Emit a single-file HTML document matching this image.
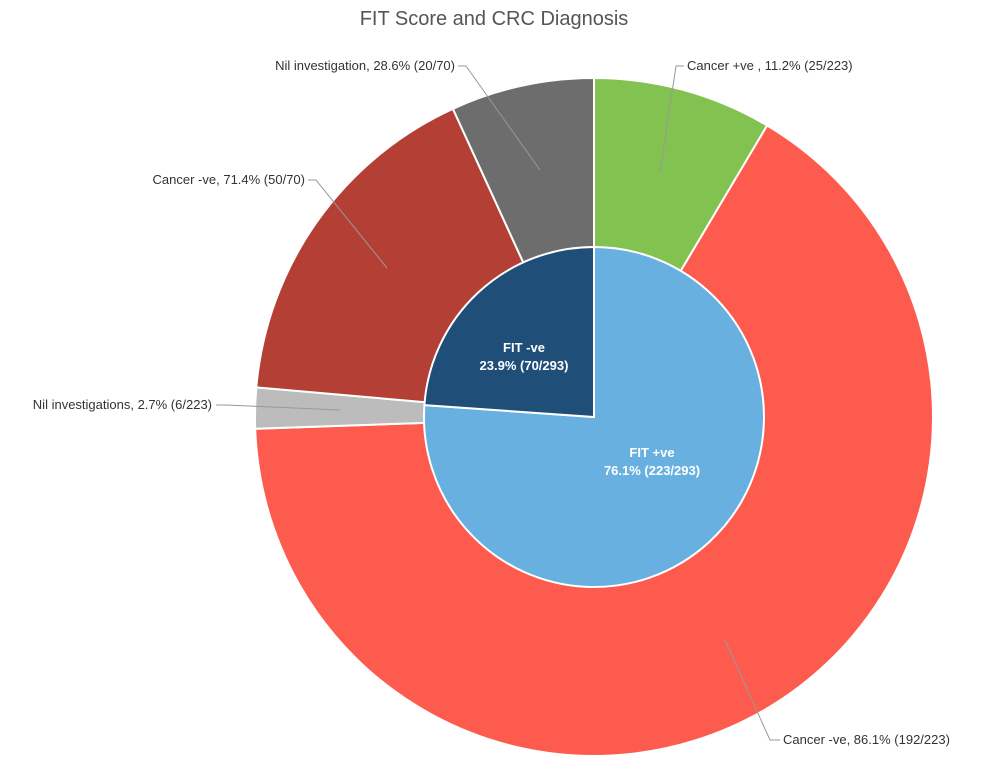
<!DOCTYPE html>
<html><head><meta charset="utf-8"><style>
body{margin:0;background:#fff;}
svg{display:block;font-family:"Liberation Sans",sans-serif;}
</style></head><body>
<svg width="986" height="759" viewBox="0 0 986 759">
<rect width="986" height="759" fill="#fff"/>
<text x="494" y="25" text-anchor="middle" font-size="20" fill="#555">FIT Score and CRC Diagnosis</text>
<g stroke="#fff" stroke-width="2">
<path d="M594,417 L594,78 A339,339 0 0 1 767.1,125.5 Z" fill="#82c250"/>
<path d="M594,417 L767.1,125.5 A339,339 0 1 1 255.2,428.8 Z" fill="#fe5b4f"/>
<path d="M594,417 L255.2,428.8 A339,339 0 0 1 256.3,387.4 Z" fill="#bcbcbc"/>
<path d="M594,417 L256.3,387.4 A339,339 0 0 1 452.9,108.8 Z" fill="#b33f35"/>
<path d="M594,417 L452.9,108.8 A339,339 0 0 1 594,78 Z" fill="#6d6d6d"/>
<path d="M594,417 L594,247 A170,170 0 1 1 424.4,405.1 Z" fill="#68b0e0"/>
<path d="M594,417 L424.4,405.1 A170,170 0 0 1 594,247 Z" fill="#1f4e79"/>
</g>
<g stroke="#999" stroke-width="1" fill="none">
<polyline points="458,66 466,66 540,170"/>
<polyline points="684,66 676,66 660,172"/>
<polyline points="308,180 316,180 387,268"/>
<polyline points="216,405 226,405 340,410"/>
<polyline points="780,740 770,740 725,640"/>
</g>
<g font-size="13" fill="#333">
<text x="455" y="70" text-anchor="end">Nil investigation, 28.6% (20/70)</text>
<text x="687" y="70">Cancer +ve , 11.2% (25/223)</text>
<text x="305" y="184" text-anchor="end">Cancer -ve, 71.4% (50/70)</text>
<text x="212" y="409" text-anchor="end">Nil investigations, 2.7% (6/223)</text>
<text x="783" y="744">Cancer -ve, 86.1% (192/223)</text>
</g>
<g font-size="13" font-weight="bold" fill="#fff" text-anchor="middle">
<text x="524" y="352">FIT -ve</text>
<text x="524" y="370">23.9% (70/293)</text>
<text x="652" y="457">FIT +ve</text>
<text x="652" y="475">76.1% (223/293)</text>
</g>
</svg>
</body></html>
